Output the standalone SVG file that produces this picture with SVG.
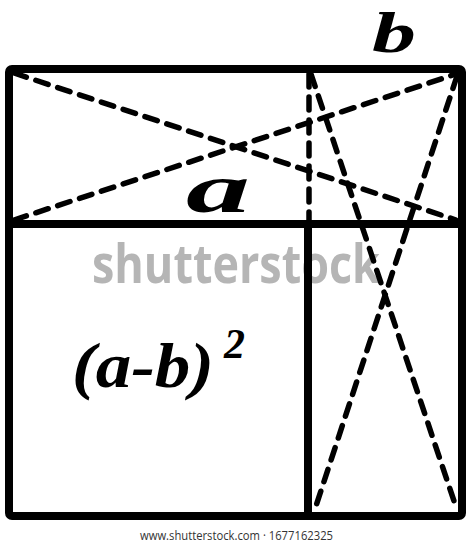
<svg xmlns="http://www.w3.org/2000/svg" width="474" height="544" viewBox="0 0 474 544">
<style>
.solid{stroke:#000;stroke-width:8;fill:none;stroke-linecap:square}
.dash{stroke:#000;stroke-width:5.5;fill:none;stroke-linecap:round;stroke-dasharray:13 10}
.lbl{font-family:"Liberation Serif",serif;font-style:italic;font-weight:bold;fill:#000}
.wm{font-family:"Open Sans","Liberation Sans",sans-serif;font-weight:bold;fill:#b5b5b5}
.foot{font-family:"Open Sans","Liberation Sans",sans-serif;fill:#333;font-size:13px}
</style>
<rect width="474" height="544" fill="#fff"/>
<text class="wm" x="92" y="283" font-size="54" textLength="288" lengthAdjust="spacingAndGlyphs">shutterstock</text>
<g id="connectors">
<line class="dash" x1="14" y1="73" x2="456" y2="220"/>
<line class="dash" x1="14" y1="220" x2="456" y2="74"/>
<line class="dash" x1="309" y1="74" x2="309" y2="222"/>
<line class="dash" x1="311" y1="74" x2="457" y2="510"/>
<line class="dash" x1="457" y1="76" x2="314" y2="512"/>
</g>
<g id="square-outer">
<rect class="solid" x="9" y="69" width="453" height="447" rx="3"/>
</g>
<g id="strip-a">
<line class="solid" x1="9" y1="224" x2="462" y2="224"/>
</g>
<g id="square-a-minus-b">
<line class="solid" x1="308" y1="224" x2="308" y2="516"/>
<text class="lbl" x="72" y="387" font-size="64" textLength="142" lengthAdjust="spacingAndGlyphs">(a-b)</text>
<text class="lbl" x="224" y="358" font-size="42">2</text>
</g>
<g id="label-a">
<text class="lbl" x="186" y="212" font-size="70" textLength="64" lengthAdjust="spacingAndGlyphs">a</text>
</g>
<g id="label-b">
<text class="lbl" x="372" y="52" font-size="56" textLength="44" lengthAdjust="spacingAndGlyphs">b</text>
</g>
<text class="foot" x="140" y="540" textLength="193" lengthAdjust="spacingAndGlyphs">www.shutterstock.com · 1677162325</text>
</svg>
